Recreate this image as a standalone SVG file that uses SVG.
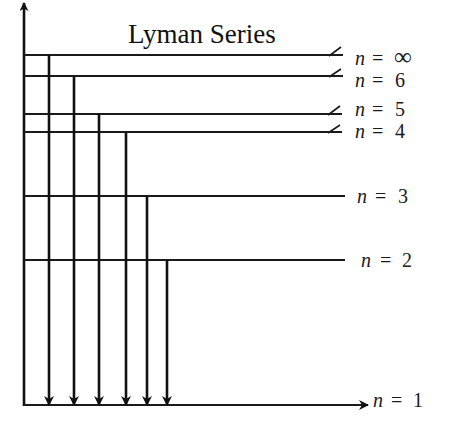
<svg xmlns="http://www.w3.org/2000/svg" width="474" height="421" viewBox="0 0 474 421">
  <style>
    .lvl { stroke: #1a1a1a; stroke-width: 2; fill: none; }
    .tick { stroke: #1a1a1a; stroke-width: 1.6; fill: none; }
    .tr { stroke: #111; stroke-width: 2.6; fill: none; marker-end: url(#ah); }
    .lab { font-family: "Liberation Serif", "Times New Roman", serif; font-size: 20px; fill: #1a1a1a; }
    .n { font-style: italic; }
    .inf { font-size: 25px; }
    .title { font-family: "Liberation Serif", "Times New Roman", serif; font-size: 27px; fill: #111; }
  </style>
  <defs>
    <marker id="ah" viewBox="0 0 10 10" refX="9" refY="5" markerWidth="10" markerHeight="10" orient="auto" markerUnits="userSpaceOnUse">
      <path d="M0,0 L10,5 L0,10 L3,5 Z" fill="#111"/>
    </marker>
    <marker id="ah2" viewBox="0 0 10 10" refX="9" refY="5" markerWidth="9" markerHeight="9" orient="auto" markerUnits="userSpaceOnUse">
      <path d="M0,0 L10,5 L0,10 L3,5 Z" fill="#111"/>
    </marker>
  </defs>
  <rect width="474" height="421" fill="#fff"/>

  <g id="axis">
    <line x1="24" y1="406" x2="24" y2="3" stroke="#111" stroke-width="2.6" marker-end="url(#ah2)"/>
  </g>

  <g id="title">
    <text class="title" x="128" y="43">Lyman Series</text>
  </g>

  <g id="level-inf">
    <line class="lvl" x1="24" y1="55" x2="343" y2="55"/>
    <line class="tick" x1="329" y1="56" x2="341" y2="47"/>
    <text class="lab" x="355" y="65"><tspan class="n">n</tspan><tspan x="372">=</tspan><tspan x="394" class="inf">∞</tspan></text>
  </g>
  <g id="level-6">
    <line class="lvl" x1="24" y1="76" x2="343" y2="76"/>
    <line class="tick" x1="329" y1="77" x2="341" y2="69"/>
    <text class="lab" x="355" y="87"><tspan class="n">n</tspan><tspan x="372">=</tspan><tspan x="395">6</tspan></text>
  </g>
  <g id="level-5">
    <line class="lvl" x1="24" y1="114" x2="342" y2="114"/>
    <line class="tick" x1="328" y1="115" x2="340" y2="106"/>
    <text class="lab" x="355" y="116"><tspan class="n">n</tspan><tspan x="372">=</tspan><tspan x="395">5</tspan></text>
  </g>
  <g id="level-4">
    <line class="lvl" x1="24" y1="132" x2="342" y2="132"/>
    <line class="tick" x1="328" y1="133" x2="340" y2="125"/>
    <text class="lab" x="355" y="138"><tspan class="n">n</tspan><tspan x="372">=</tspan><tspan x="395">4</tspan></text>
  </g>
  <g id="level-3">
    <line class="lvl" x1="24" y1="196" x2="345" y2="196"/>
    <text class="lab" x="357" y="203"><tspan class="n">n</tspan><tspan x="375">=</tspan><tspan x="398">3</tspan></text>
  </g>
  <g id="level-2">
    <line class="lvl" x1="24" y1="260" x2="345" y2="260"/>
    <text class="lab" x="361" y="267"><tspan class="n">n</tspan><tspan x="380">=</tspan><tspan x="402">2</tspan></text>
  </g>
  <g id="level-1">
    <line x1="24" y1="405" x2="368" y2="405" stroke="#1a1a1a" stroke-width="2" marker-end="url(#ah)"/>
    <text class="lab" x="373" y="407"><tspan class="n">n</tspan><tspan x="391">=</tspan><tspan x="413">1</tspan></text>
  </g>

  <g id="transitions">
    <line class="tr" x1="49" y1="55" x2="49" y2="405"/>
    <line class="tr" x1="74" y1="76" x2="74" y2="405"/>
    <line class="tr" x1="99" y1="114" x2="99" y2="405"/>
    <line class="tr" x1="126" y1="132" x2="126" y2="405"/>
    <line class="tr" x1="147" y1="196" x2="147" y2="405"/>
    <line class="tr" x1="167" y1="260" x2="167" y2="405"/>
  </g>
</svg>
